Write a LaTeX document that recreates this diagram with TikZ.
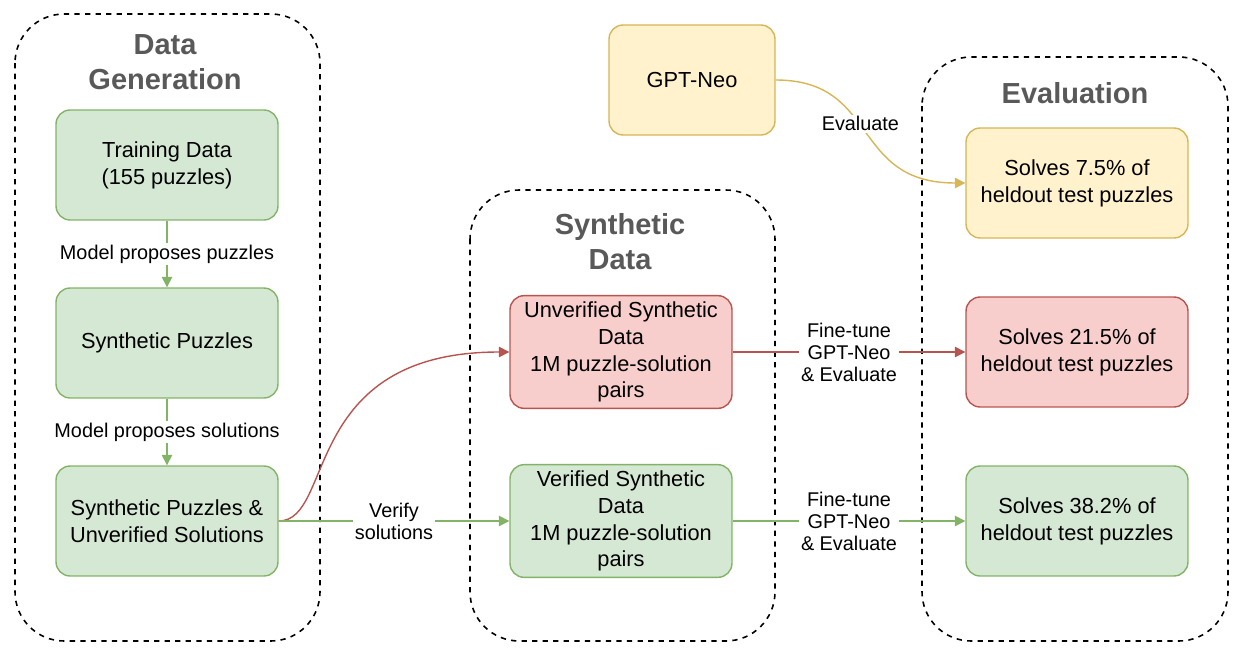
\documentclass[tikz,border=0pt]{standalone}
\usepackage{fontspec}
\setmainfont{Liberation Sans}
\usetikzlibrary{positioning,arrows.meta}
\definecolor{gfill}{HTML}{D5E8D4}\definecolor{gline}{HTML}{82B366}
\definecolor{rfill}{HTML}{F8CECC}\definecolor{rline}{HTML}{B85450}
\definecolor{yfill}{HTML}{FFF2CC}\definecolor{yline}{HTML}{D6B656}
\definecolor{ttl}{HTML}{595959}
\tikzset{
  box/.style={rounded corners=8pt, minimum width=4.44cm, minimum height=2.2cm, align=center, font=\fontsize{12.4}{15.3}\selectfont, line width=0.8pt},
  gbox/.style={box, fill=gfill, draw=gline},
  rbox/.style={box, fill=rfill, draw=rline},
  ybox/.style={box, fill=yfill, draw=yline},
  group/.style={draw, dashed, rounded corners=28pt, line width=0.9pt},
  title/.style={font=\fontsize{16.5}{20}\selectfont\bfseries, text=ttl, align=center},
  lab/.style={fill=white, text=black, font=\fontsize{11.3}{12.5}\selectfont, align=center, inner sep=1pt},
  arr/.style={-{Triangle[length=6pt,width=6pt]}, line width=0.8pt}
}
\begin{document}
\begin{tikzpicture}[x=0.02cm, y=-0.02cm]
	\useasboundingbox (0,0) rectangle (1246,655);
	% groups
	\draw[group] (15,14) rectangle (320,641);
	\draw[group] (470,190) rectangle (775,641);
	\draw[group] (922,57) rectangle (1228,641);
	\node[title] (tgen)  at (165,62)  {Data\\Generation};
	\node[title] (tsyn)  at (620,242) {Synthetic\\Data};
	\node[title] (teval) at (1075,93) {Evaluation};

	% boxes
	\node[gbox] (train)  at (167,165) {Training Data\\(155 puzzles)};
	\node[gbox] (spuz)   at (167,343) {Synthetic Puzzles};
	\node[gbox] (sunv)   at (167,521) {Synthetic Puzzles \&\\Unverified Solutions};
	\node[rbox] (unver)  at (621,352) {Unverified Synthetic\\Data\\1M puzzle-solution\\pairs};
	\node[gbox] (ver)    at (621,521) {Verified Synthetic\\Data\\1M puzzle-solution\\pairs};
	\node[ybox, minimum width=3.32cm] (neo) at (692,80) {GPT-Neo};
	\node[ybox] (res1) at (1077,183) {Solves 7.5\% of\\heldout test puzzles};
	\node[rbox] (res2) at (1077,352) {Solves 21.5\% of\\heldout test puzzles};
	\node[gbox] (res3) at (1077,521) {Solves 38.2\% of\\heldout test puzzles};

	% connectors
	\draw[arr, gline] (train) -- node[lab] {Model proposes puzzles} (spuz);
	\draw[arr, gline] (spuz) -- node[lab] {Model proposes solutions} (sunv);
	\draw[arr, rline] (sunv.east) .. controls (335,521) and (300,352) .. (unver.west);
	\draw[arr, gline] (sunv) -- node[lab] {Verify\\solutions} (ver);
	\draw[arr, rline] (unver) -- node[lab] {Fine-tune\\GPT-Neo\\\& Evaluate} (res2);
	\draw[arr, gline] (ver) -- node[lab] {Fine-tune\\GPT-Neo\\\& Evaluate} (res3);
	\draw[arr, yline] (neo.east) .. controls (880,80) and (850,183) .. node[lab, pos=0.45] {Evaluate} (res1.west);
\end{tikzpicture}
\end{document}
